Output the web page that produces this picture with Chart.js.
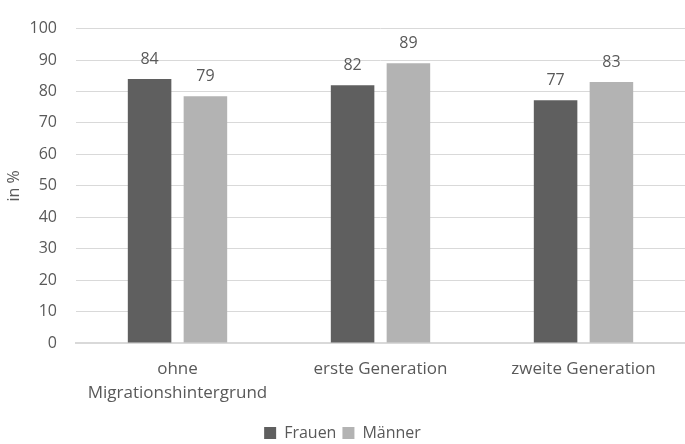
<!DOCTYPE html>
<html>
<head>
<meta charset="utf-8">
<script src="https://cdn.jsdelivr.net/npm/chart.js@4/dist/chart.umd.min.js"></script>
<style>
  html, body { margin: 0; padding: 0; background: #fff; }
  #wrap { width: 685px; height: 444px; }
</style>
</head>
<body>
<div id="wrap"><canvas id="chart"></canvas></div>
<script>
const categories = [["ohne", "Migrationshintergrund"], "erste Generation", "zweite Generation"];
const frauen = [84, 82, 77.2];
const maenner = [78.5, 89, 83];
const yTicks = [0, 10, 20, 30, 40, 50, 60, 70, 80, 90, 100];

const textColor = "#595959";
const family = "'Open Sans', sans-serif";

// Werte über den Balken
const valueLabels = {
  id: "valueLabels",
  afterDatasetsDraw(chart) {
    const c = chart.ctx;
    c.save();
    c.font = "16px " + family;
    c.fillStyle = textColor;
    c.textAlign = "center";
    c.textBaseline = "alphabetic";
    chart.data.datasets.forEach((ds, i) => {
      chart.getDatasetMeta(i).data.forEach((bar, j) => {
        c.fillText(Math.round(ds.data[j]), bar.x, bar.y - 15);
      });
    });
    c.restore();
  }
};

new Chart(document.getElementById("chart"), {
  type: "bar",
  data: {
    labels: categories,
    datasets: [
      { label: "Frauen", data: frauen, backgroundColor: "#5f5f5f" },
      { label: "Männer", data: maenner, backgroundColor: "#b3b3b3" }
    ]
  },
  options: {
    responsive: true,
    maintainAspectRatio: false,
    animation: false,
    layout: { padding: { top: -18, right: 0, left: 0, bottom: -7 } },
    datasets: { bar: { barPercentage: 0.78, categoryPercentage: 0.55 } },
    plugins: {
      legend: {
        position: "bottom",
        labels: {
          color: textColor,
          font: { family: family, size: 16 },
          boxWidth: 12,
          boxHeight: 12,
          padding: 6
        }
      },
      tooltip: { enabled: false }
    },
    scales: {
      x: {
        afterFit: axis => { axis.height = 76; },
        grid: { display: false, drawTicks: false },
        border: { color: "#d9d9d9", width: 2 },
        ticks: { color: textColor, font: { family: family, size: 17, lineHeight: 1.4 }, padding: 14, maxRotation: 0 }
      },
      y: {
        min: 0,
        max: 100,
        afterBuildTicks: axis => { axis.ticks = yTicks.map(v => ({ value: v })); },
        afterFit: axis => { axis.width = 76; },
        grid: { color: "#d9d9d9", drawTicks: false },
        border: { display: false },
        ticks: { color: textColor, font: { family: family, size: 16 }, padding: 19 },
        title: { display: true, text: "in %", color: textColor, font: { family: family, size: 16 }, padding: { top: 5, bottom: 0 } }
      }
    }
  },
  plugins: [valueLabels]
});
</script>
</body>
</html>
